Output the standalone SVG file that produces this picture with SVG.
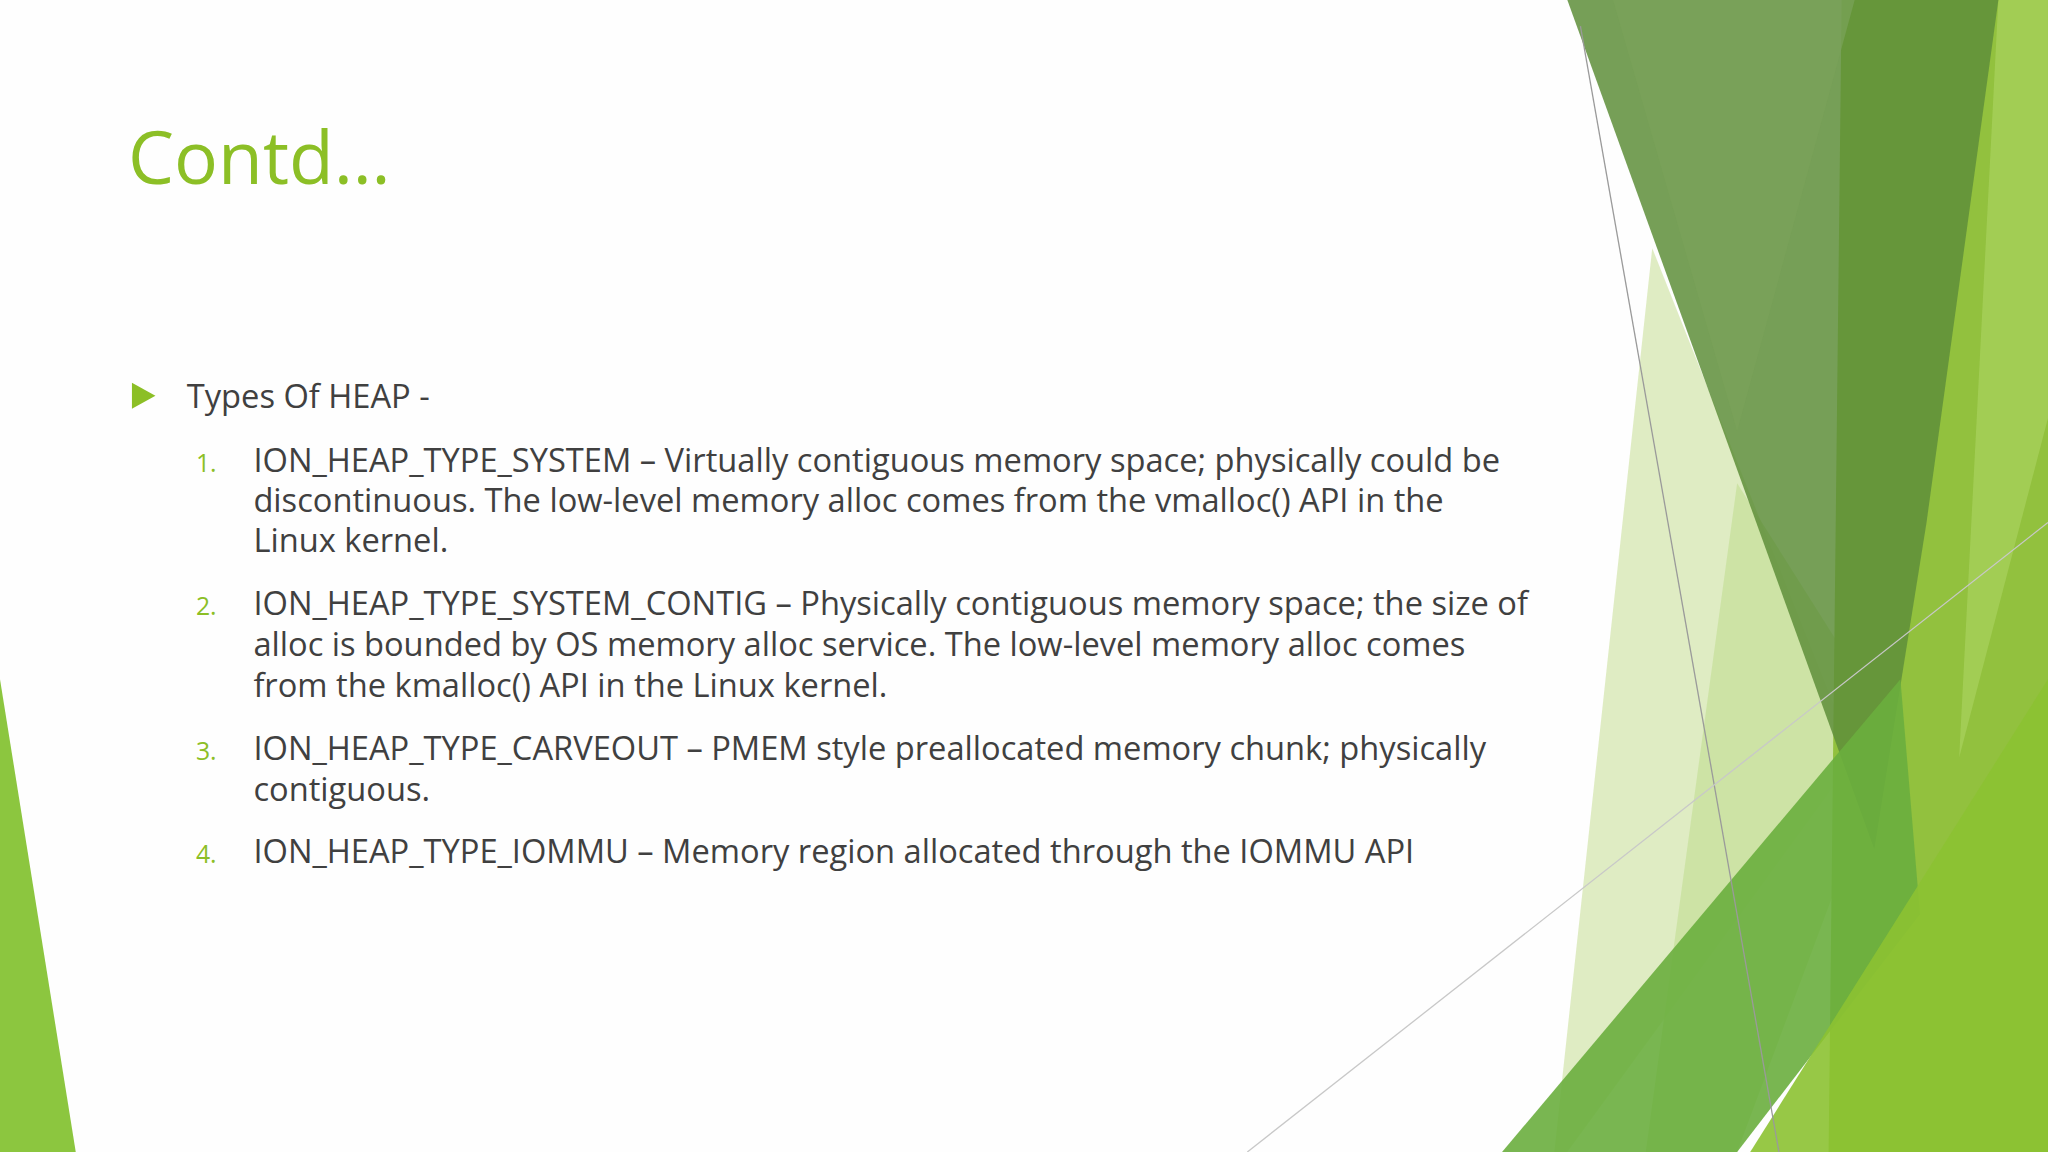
<svg xmlns="http://www.w3.org/2000/svg" width="2048" height="1152" viewBox="0 0 2048 1152">
<style>
.b{font-family:"Open Sans","Liberation Sans",sans-serif;font-size:25px;fill:#404040}
.n{font-family:"Open Sans","Liberation Sans",sans-serif;font-size:19px;fill:#8cbf26}
</style>
<rect width="2048" height="1152" fill="#fefefe"/>
<g transform="scale(1.306122)">
<g id="decor">
<polygon points="0,520 58,882 0,882" fill="#8cc63f"/>
<polygon points="1265,190 1420,580 1200,882 1190,882" fill="#d9e9b9" opacity="0.85"/>
<polygon points="1330,370 1450,560 1330,882 1260,882" fill="#c4df98" opacity="0.7"/>
<polygon points="1410,0 1568,0 1568,882 1400,882" fill="#92c13e"/>
<polygon points="1530,0 1568,0 1568,320 1500,580" fill="#a6cf5a" opacity="0.8"/>
<polygon points="1200,0 1530,0 1475,400 1435,650" fill="#5e8e3a" opacity="0.85"/>
<polygon points="1235,0 1420,0 1330,330" fill="#7aa25a" opacity="0.7"/>
<polygon points="1150,882 1455,520 1470,700 1330,882" fill="#6aae3e" opacity="0.9"/>
<polygon points="1340,882 1568,520 1568,882" fill="#8cc232" opacity="0.9"/>
<line x1="1210" y1="20" x2="1362" y2="882" stroke="#9a9a9a" stroke-width="1"/>
<line x1="955" y1="882" x2="1568" y2="400" stroke="#c8c8c8" stroke-width="1"/>
</g>
<g id="content">
<text x="98" y="141" font-family="Open Sans,Liberation Sans,sans-serif" font-size="56" fill="#8cbf26">Contd…</text>
<polygon points="101,293 119,303 101,313" fill="#8cbf26"/>
<text x="143" y="312" class="b" font-size="27">Types Of HEAP -</text>
<text x="150" y="361" class="n">1.</text>
<text class="b"><tspan x="194" y="361">ION_HEAP_TYPE_SYSTEM – Virtually contiguous memory space; physically could be</tspan><tspan x="194" y="392">discontinuous. The low-level memory alloc comes from the vmalloc() API in the</tspan><tspan x="194" y="423">Linux kernel.</tspan></text>
<text x="150" y="471" class="n">2.</text>
<text class="b"><tspan x="194" y="471">ION_HEAP_TYPE_SYSTEM_CONTIG – Physically contiguous memory space; the size of</tspan><tspan x="194" y="502">alloc is bounded by OS memory alloc service. The low-level memory alloc comes</tspan><tspan x="194" y="534">from the kmalloc() API in the Linux kernel.</tspan></text>
<text x="150" y="582" class="n">3.</text>
<text class="b"><tspan x="194" y="582">ION_HEAP_TYPE_CARVEOUT – PMEM style preallocated memory chunk; physically</tspan><tspan x="194" y="613">contiguous.</tspan></text>
<text x="150" y="661" class="n">4.</text>
<text x="194" y="661" class="b">ION_HEAP_TYPE_IOMMU – Memory region allocated through the IOMMU API</text>
</g>
</g>
</svg>
